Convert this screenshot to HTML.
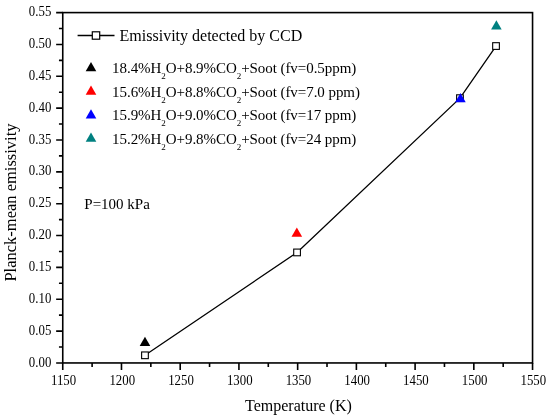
<!DOCTYPE html>
<html><head><meta charset="utf-8"><title>Planck-mean emissivity vs Temperature</title>
<style>html,body{margin:0;padding:0;background:#fff;width:550px;height:420px;overflow:hidden}svg{display:block}</style>
</head><body><svg width="550" height="420" viewBox="0 0 550 420" font-family="'Liberation Serif', serif"><rect x="62.75" y="12.60" width="469.80" height="350.35" fill="none" stroke="#000" stroke-width="1.6"/><path d="M62.75,362.95v7 M92.11,362.95v4 M121.48,362.95v7 M150.84,362.95v4 M180.20,362.95v7 M209.56,362.95v4 M238.93,362.95v7 M268.29,362.95v4 M297.65,362.95v7 M327.01,362.95v4 M356.38,362.95v7 M385.74,362.95v4 M415.10,362.95v7 M444.46,362.95v4 M473.83,362.95v7 M503.19,362.95v4 M532.55,362.95v7 M62.75,362.95h-6.6 M62.75,347.02h-3.8 M62.75,331.10h-6.6 M62.75,315.17h-3.8 M62.75,299.25h-6.6 M62.75,283.32h-3.8 M62.75,267.40h-6.6 M62.75,251.47h-3.8 M62.75,235.55h-6.6 M62.75,219.62h-3.8 M62.75,203.70h-6.6 M62.75,187.77h-3.8 M62.75,171.85h-6.6 M62.75,155.92h-3.8 M62.75,140.00h-6.6 M62.75,124.07h-3.8 M62.75,108.15h-6.6 M62.75,92.22h-3.8 M62.75,76.30h-6.6 M62.75,60.37h-3.8 M62.75,44.45h-6.6 M62.75,28.52h-3.8 M62.75,12.60h-6.6" stroke="#000" stroke-width="1.6" fill="none"/><g font-size="13.8"><text transform="translate(63.55,385.1) scale(0.93,1)" text-anchor="middle">1150</text><text transform="translate(122.28,385.1) scale(0.93,1)" text-anchor="middle">1200</text><text transform="translate(181.00,385.1) scale(0.93,1)" text-anchor="middle">1250</text><text transform="translate(239.73,385.1) scale(0.93,1)" text-anchor="middle">1300</text><text transform="translate(298.45,385.1) scale(0.93,1)" text-anchor="middle">1350</text><text transform="translate(357.18,385.1) scale(0.93,1)" text-anchor="middle">1400</text><text transform="translate(415.90,385.1) scale(0.93,1)" text-anchor="middle">1450</text><text transform="translate(474.63,385.1) scale(0.93,1)" text-anchor="middle">1500</text><text transform="translate(533.35,385.1) scale(0.93,1)" text-anchor="middle">1550</text><text transform="translate(51.3,366.55) scale(0.93,1)" text-anchor="end">0.00</text><text transform="translate(51.3,334.70) scale(0.93,1)" text-anchor="end">0.05</text><text transform="translate(51.3,302.85) scale(0.93,1)" text-anchor="end">0.10</text><text transform="translate(51.3,271.00) scale(0.93,1)" text-anchor="end">0.15</text><text transform="translate(51.3,239.15) scale(0.93,1)" text-anchor="end">0.20</text><text transform="translate(51.3,207.30) scale(0.93,1)" text-anchor="end">0.25</text><text transform="translate(51.3,175.45) scale(0.93,1)" text-anchor="end">0.30</text><text transform="translate(51.3,143.60) scale(0.93,1)" text-anchor="end">0.35</text><text transform="translate(51.3,111.75) scale(0.93,1)" text-anchor="end">0.40</text><text transform="translate(51.3,79.90) scale(0.93,1)" text-anchor="end">0.45</text><text transform="translate(51.3,48.05) scale(0.93,1)" text-anchor="end">0.50</text><text transform="translate(51.3,16.20) scale(0.93,1)" text-anchor="end">0.55</text></g><path d="M144.97,355.31 L297.06,252.43 L459.97,98.15 L496.02,46.04" stroke="#000" stroke-width="1.3" fill="none"/><rect x="141.62" y="351.96" width="6.7" height="6.7" fill="#fff" stroke="#000" stroke-width="1.1"/><rect x="293.71" y="249.08" width="6.7" height="6.7" fill="#fff" stroke="#000" stroke-width="1.1"/><rect x="456.62" y="94.80" width="6.7" height="6.7" fill="#fff" stroke="#000" stroke-width="1.1"/><rect x="492.67" y="42.69" width="6.7" height="6.7" fill="#fff" stroke="#000" stroke-width="1.1"/><path d="M144.97,336.82 L150.27,346.02 L139.66,346.02 Z" fill="#000"/><path d="M296.83,227.57 L302.13,236.77 L291.53,236.77 Z" fill="#f00"/><path d="M460.44,93.04 L465.74,102.24 L455.14,102.24 Z" fill="#00f"/><path d="M496.38,20.23 L501.68,29.43 L491.08,29.43 Z" fill="#008080"/><path d="M77.6,35.5 H114.5" stroke="#000" stroke-width="1.35"/><rect x="92.3" y="31.8" width="7.4" height="7.4" fill="#fff" stroke="#000" stroke-width="1.2"/><text x="119.6" y="40.5" font-size="16">Emissivity detected by CCD</text><path d="M91.00,62.10 L96.30,71.30 L85.70,71.30 Z" fill="#000"/><text x="112.1" y="72.70" font-size="15" letter-spacing="-0.06">18.4%H<tspan font-size="9" dy="6">2</tspan><tspan dy="-6">O+8.9%CO</tspan><tspan font-size="9" dy="6">2</tspan><tspan dy="-6">+Soot (fv=0.5ppm)</tspan></text><path d="M91.00,85.50 L96.30,94.70 L85.70,94.70 Z" fill="#f00"/><text x="112.1" y="96.60" font-size="15" letter-spacing="-0.06">15.6%H<tspan font-size="9" dy="6">2</tspan><tspan dy="-6">O+8.8%CO</tspan><tspan font-size="9" dy="6">2</tspan><tspan dy="-6">+Soot (fv=7.0 ppm)</tspan></text><path d="M91.00,109.30 L96.30,118.50 L85.70,118.50 Z" fill="#00f"/><text x="112.1" y="120.40" font-size="15" letter-spacing="-0.06">15.9%H<tspan font-size="9" dy="6">2</tspan><tspan dy="-6">O+9.0%CO</tspan><tspan font-size="9" dy="6">2</tspan><tspan dy="-6">+Soot (fv=17 ppm)</tspan></text><path d="M91.00,132.60 L96.30,141.80 L85.70,141.80 Z" fill="#008080"/><text x="112.1" y="143.90" font-size="15" letter-spacing="-0.06">15.2%H<tspan font-size="9" dy="6">2</tspan><tspan dy="-6">O+9.8%CO</tspan><tspan font-size="9" dy="6">2</tspan><tspan dy="-6">+Soot (fv=24 ppm)</tspan></text><text x="84.3" y="209" font-size="15">P=100 kPa</text><text x="245" y="411.2" font-size="16">Temperature (K)</text><text transform="translate(16.2,281.6) rotate(-90)" font-size="16.5">Planck-mean emissivity</text></svg></body></html>
